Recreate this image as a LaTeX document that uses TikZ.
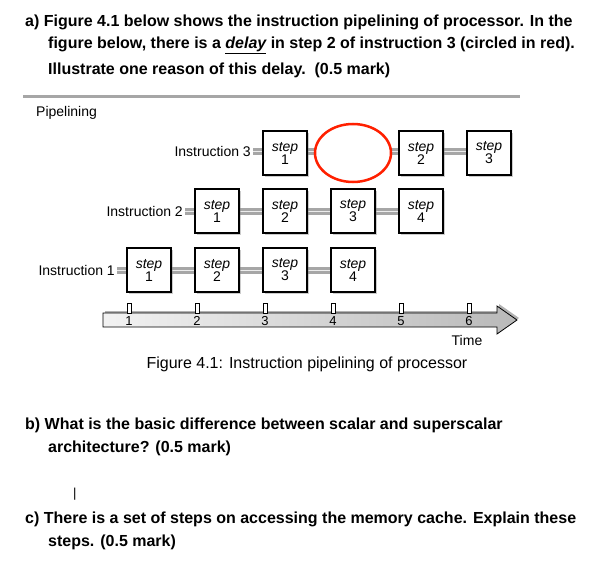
\documentclass[tikz,border=0pt]{standalone}
\usepackage{fontspec}
\setmainfont{Liberation Sans}
\usetikzlibrary{shadows,shapes.geometric}
\begin{document}
\begin{tikzpicture}[x=1pt,y=-1pt,
  q/.style={anchor=west,font=\fontsize{16}{18}\selectfont\bfseries,inner sep=0},
  box/.style={draw,line width=1.4pt,minimum size=44pt,inner sep=0,fill=white,align=center,
    font=\fontsize{14}{13}\selectfont,drop shadow={shadow xshift=2pt,shadow yshift=-2pt,opacity=0.4}},
  lbl/.style={font=\fontsize{14}{14}\selectfont,anchor=east,inner sep=1pt},
  link/.style={draw=gray!70,line width=3pt,double=gray!15,double distance=1pt},
  tick/.style={draw,fill=white,line width=0.6pt,minimum width=4pt,minimum height=10pt,inner sep=0}]
\useasboundingbox (0,0) rectangle (606,586);
\node[q] (t1) at (25,22) {a) Figure 4.1 below shows the instruction pipelining of processor. In the};
\node[q] (t2) at (48,45) {figure below, there is a \underline{\itshape delay} in step 2 of instruction 3 (circled in red).};
\node[q] (t3) at (48,70) {Illustrate one reason of this delay.\ \ (0.5 mark)};
\coordinate (g1) at (23,97); \coordinate (g2) at (520,97);
\draw[gray!70,line width=3pt] (g1) -- (g2);
\node[anchor=west,font=\fontsize{14}{14}\selectfont,inner sep=0] (pl) at (36,113) {Pipelining};
% time bar
\fill[gray!60,shift={(2pt,2pt)}] (103,313) -- (497,313) -- (497,306) -- (517,320) -- (497,334) -- (497,327) -- (103,327) -- cycle;
\shade[left color=gray!10,right color=gray!55,draw=black,line width=0.8pt] (103,313) -- (497,313) -- (497,306) -- (517,320) -- (497,334) -- (497,327) -- (103,327) -- cycle;
\foreach \i in {1,...,6}{
  \node[tick] (k\i) at ({129+68*(\i-1)},308) {};
  \node[font=\fontsize{13}{13}\selectfont,inner sep=0] (n\i) at ({129+68*(\i-1)},321) {\i};
}
\node[font=\fontsize{14}{14}\selectfont,inner sep=0] (time) at (467,340) {Time};
\path[link] (117,270) -- (353,270);
\path[link] (185,211) -- (421,211);
\path[link] (253,152) -- (489,152);
\node[box] (a1) at (149,270) {\itshape step\\1};
\node[box] (a2) at (217,270) {\itshape step\\2};
\node[box] (a3) at (285,270) {\itshape step\\3};
\node[box] (a4) at (353,270) {\itshape step\\4};
\node[box] (b1n) at (217,211) {\itshape step\\1};
\node[box] (b2) at (285,211) {\itshape step\\2};
\node[box] (b3) at (353,211) {\itshape step\\3};
\node[box] (b4) at (421,211) {\itshape step\\4};
\node[box] (c1) at (285,153) {\itshape step\\1};
\node[draw=red!75!orange,line width=2.5pt,ellipse,minimum width=76pt,minimum height=58pt,fill=white] (cx) at (353,153) {};
\node[box] (c2) at (421,153) {\itshape step\\2};
\node[box] (c3) at (489,153) {\itshape step\\3};
\node[lbl] (L1) at (116,270) {Instruction 1};
\node[lbl] (L2) at (184,211) {Instruction 2};
\node[lbl] (L3) at (252,151) {Instruction 3};
\node[font=\fontsize{16}{16}\selectfont,inner sep=0] (cap) at (307,364) {Figure 4.1: Instruction pipelining of processor};
\node[q] (b1t) at (25,425) {b) What is the basic difference between scalar and superscalar};
\node[q] (b2t) at (48,448) {architecture? (0.5 mark)};
\node[anchor=west,inner sep=0,font=\fontsize{13}{13}\selectfont] (cur) at (73,494) {|};
\node[q] (c1t) at (25,519) {c) There is a set of steps on accessing the memory cache. Explain these};
\node[q] (c2t) at (48,542) {steps. (0.5 mark)};
\end{tikzpicture}
\end{document}
